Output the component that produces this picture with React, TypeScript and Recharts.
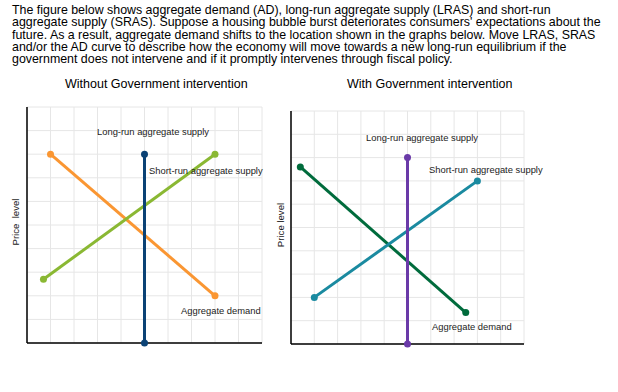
import { LineChart, Line, XAxis, YAxis, CartesianGrid, ReferenceLine } from 'recharts';

// points are in grid units (0-10 on both axes)
const leftDemand = [{ x: 1, y: 8 }, { x: 8, y: 2 }];
const leftShortRun = [{ x: 0.7, y: 2.7 }, { x: 8, y: 8 }];
const leftLongRun = [{ x: 5, y: 0 }, { x: 5, y: 8 }];

const rightDemand = [{ x: 0.4, y: 7.6 }, { x: 7.5, y: 1.35 }];
const rightShortRun = [{ x: 1, y: 2 }, { x: 8, y: 7 }];
const rightLongRun = [{ x: 5, y: 0 }, { x: 5, y: 8 }];

const xTicks = [1, 2, 3, 4, 5, 6, 7, 8, 9, 10];
const yTicks = [1, 2, 3, 4, 5, 6, 7, 8, 9];

const paragraph = [
  'The figure below shows aggregate demand (AD), long-run aggregate supply (LRAS) and short-run',
  "aggregate supply (SRAS). Suppose a housing bubble burst deteriorates consumers' expectations about the",
  'future. As a result, aggregate demand shifts to the location shown in the graphs below. Move LRAS, SRAS',
  'and/or the AD curve to describe how the economy will move towards a new long-run equilibrium if the',
  'government does not intervene and if it promptly intervenes through fiscal policy.',
];

const font = 'Arial, "Liberation Sans", sans-serif';

const Label = ({ left, top, text }: { left: number; top: number; text: string }) => (
  <div style={{ position: 'absolute', left, top, fontSize: 9.4, lineHeight: '12px', color: '#222', whiteSpace: 'nowrap' }}>
    {text}
  </div>
);

const YLabel = ({ cx, cy, text }: { cx: number; cy: number; text: string }) => (
  <div
    style={{
      position: 'absolute', left: cx - 40, top: cy - 6, width: 80, textAlign: 'center',
      fontSize: 9.6, lineHeight: '12px', color: '#222', whiteSpace: 'pre', transform: 'rotate(-90deg)',
    }}
  >
    {text}
  </div>
);

type Pt = { x: number; y: number };

const Panel = ({ w, h, ad, sras, lras, colors }: { w: number; h: number; ad: Pt[]; sras: Pt[]; lras: Pt[]; colors: string[] }) => (
  <LineChart width={w} height={h} margin={{ top: 10, right: 10, bottom: 10, left: 10 }}>
    <CartesianGrid stroke="#e6e6e6" strokeWidth={1} />
    <XAxis type="number" dataKey="x" domain={[0, 10]} ticks={xTicks} hide />
    <YAxis type="number" dataKey="y" domain={[0, 10]} ticks={yTicks} hide />
    <ReferenceLine x={0} stroke="#000" strokeWidth={1.5} />
    <ReferenceLine y={0} stroke="#000" strokeWidth={1.5} />
    <Line data={ad} dataKey="y" stroke={colors[0]} strokeWidth={3} dot={{ r: 3.5, fill: colors[0], stroke: 'none' }} isAnimationActive={false} />
    <Line data={sras} dataKey="y" stroke={colors[1]} strokeWidth={3} dot={{ r: 3.5, fill: colors[1], stroke: 'none' }} isAnimationActive={false} />
    <Line data={lras} dataKey="y" stroke={colors[2]} strokeWidth={3} dot={{ r: 3.5, fill: colors[2], stroke: 'none' }} isAnimationActive={false} />
  </LineChart>
);

export default function App() {
  return (
    <div style={{ position: 'absolute', left: 0, top: 0, width: 618, height: 392, background: '#fff', fontFamily: font, color: '#000' }}>
      <div style={{ position: 'absolute', left: 12, top: 4, fontSize: 12.4, lineHeight: '12.3px', whiteSpace: 'nowrap' }}>
        {paragraph.map((line) => (
          <div key={line}>{line}</div>
        ))}
      </div>
      <div style={{ position: 'absolute', left: 65, top: 77, fontSize: 12.5, lineHeight: '15px' }}>Without Government intervention</div>
      <div style={{ position: 'absolute', left: 347, top: 77, fontSize: 12.5, lineHeight: '15px' }}>With Government intervention</div>

      <div style={{ position: 'absolute', left: 17, top: 97 }}>
        <Panel w={255} h={256} ad={leftDemand} sras={leftShortRun} lras={leftLongRun} colors={['#fa9632', '#8ab833', '#0b4275']} />
      </div>
      <Label left={97} top={126} text="Long-run aggregate supply" />
      <Label left={149} top={165} text="Short-run aggregate supply" />
      <Label left={181} top={305} text="Aggregate demand" />
      <YLabel cx={16} cy={222} text="Price  level" />

      <div style={{ position: 'absolute', left: 281, top: 101 }}>
        <Panel w={253} h={253} ad={rightDemand} sras={rightShortRun} lras={rightLongRun} colors={['#006b3c', '#1a8aa0', '#6a3aa8']} />
      </div>
      <Label left={366} top={132} text="Long-run aggregate supply" />
      <Label left={429} top={164} text="Short-run aggregate supply" />
      <Label left={432} top={321} text="Aggregate demand" />
      <YLabel cx={281} cy={225} text="Price level" />
    </div>
  );
}
